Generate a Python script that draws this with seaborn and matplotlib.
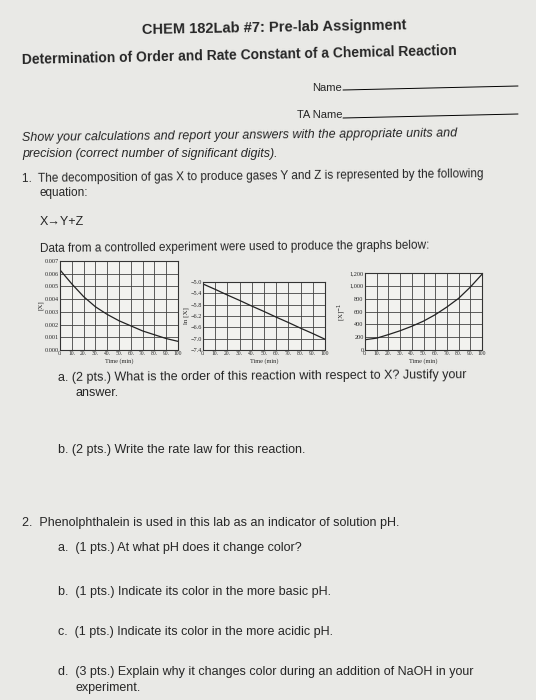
import numpy as np
import pandas as pd
import matplotlib.pyplot as plt
import seaborn as sns

time_min = [0, 10, 20, 30, 40, 50, 60, 70, 80, 90, 100]
conc_x = [0.0063, 0.0052, 0.0042, 0.0034, 0.0028, 0.0023, 0.0019, 0.0015, 0.0012, 0.0009, 0.00068]
ln_x = [-5.07, -5.26, -5.46, -5.65, -5.85, -6.04, -6.24, -6.43, -6.63, -6.82, -7.02]
inv_x = [160, 185, 240, 300, 370, 450, 550, 670, 805, 980, 1180]

df = pd.DataFrame({'t': time_min, 'x': conc_x, 'ln': ln_x, 'inv': inv_x})

sns.set_style("white")
plt.rcParams['font.family'] = ['Liberation Sans', 'DejaVu Sans']

W, H = 536, 700
fig = plt.figure(figsize=(W / 100, H / 100), dpi=100)
fig.patch.set_facecolor('#e9e9e6')


def txt(x, y, s, size=9, **kw):
    fig.text(x / W, 1 - y / H, s, fontsize=size, va='center', **kw)


txt(142, 28, "CHEM 182Lab #7: Pre-lab Assignment", 10.5, weight='bold', rotation=1)
txt(22, 55, "Determination of Order and Rate Constant of a Chemical Reaction", 10, weight='bold', rotation=1.2)
txt(312, 88, "Name", 8)
fig.add_artist(plt.Line2D([343 / W, 518 / W], [1 - 90 / H, 1 - 86 / H], color='k', lw=0.7))
txt(297, 115, "TA Name", 8)
fig.add_artist(plt.Line2D([343 / W, 518 / W], [1 - 118 / H, 1 - 114 / H], color='k', lw=0.7))
txt(22, 136, "Show your calculations and report your answers with the appropriate units and", 9, style='italic', rotation=0.6)
txt(22, 154, "precision (correct number of significant digits).", 9, style='italic')
txt(22, 177, "1.  The decomposition of gas X to produce gases Y and Z is represented by the following", 8.5, rotation=0.6)
txt(40, 193, "equation:", 8.5)
txt(40, 222, "X\u2192Y+Z", 9)
txt(40, 247, "Data from a controlled experiment were used to produce the graphs below:", 8.5, rotation=0.5)
txt(58, 377, "a. (2 pts.) What is the order of this reaction with respect to X? Justify your", 9, rotation=0.4)
txt(75, 393, "answer.", 9)
txt(58, 450, "b. (2 pts.) Write the rate law for this reaction.", 9)
txt(22, 523, "2.  Phenolphthalein is used in this lab as an indicator of solution pH.", 9)
txt(58, 548, "a.  (1 pts.) At what pH does it change color?", 9)
txt(58, 592, "b.  (1 pts.) Indicate its color in the more basic pH.", 9)
txt(58, 632, "c.  (1 pts.) Indicate its color in the more acidic pH.", 9)
txt(58, 672, "d.  (3 pts.) Explain why it changes color during an addition of NaOH in your", 9)
txt(75, 688, "experiment.", 9)

panels = [
    ((60, 261, 178, 350), 'x', (0, 0.007), np.arange(0, 0.0071, 0.001), '[X]', lambda v: f"{v:.3f}"),
    ((203, 282, 325, 350), 'ln', (-7.4, -5.0), np.arange(-7.4, -4.99, 0.4), 'ln [X]', lambda v: f"\u2212{abs(v):.1f}"),
    ((365, 273, 482, 350), 'inv', (0, 1200), np.arange(0, 1201, 200), '[X]$^{-1}$', lambda v: f"{int(v):,}"),
]
for (l, t, r, b), col, ylim, yt, ylab, fmt in panels:
    ax = fig.add_axes([l / W, 1 - b / H, (r - l) / W, (b - t) / H])
    ax.set_facecolor('#f2f2ef')
    sns.lineplot(data=df, x='t', y=col, ax=ax, color='#222222', lw=0.9)
    ax.set_xlim(0, 100)
    ax.set_ylim(*ylim)
    ax.set_xticks(time_min)
    ax.set_xticklabels([f"{v}." if v < 100 else "100" for v in time_min], fontsize=4, family='Liberation Serif')
    ax.set_yticks(yt)
    ax.set_yticklabels([fmt(v) for v in yt], fontsize=4.5, family='Liberation Serif')
    ax.grid(True, color='#444444', lw=0.6)
    ax.set_xlabel("Time (min)", fontsize=4.5, family='Liberation Serif', labelpad=1)
    ax.set_ylabel(ylab, fontsize=5, family='Liberation Serif', labelpad=1)
    ax.tick_params(length=0, pad=1)
    for s in ax.spines.values():
        s.set_color('#333333')
        s.set_linewidth(0.8)

plt.savefig("out.png", dpi=100, facecolor=fig.get_facecolor())
